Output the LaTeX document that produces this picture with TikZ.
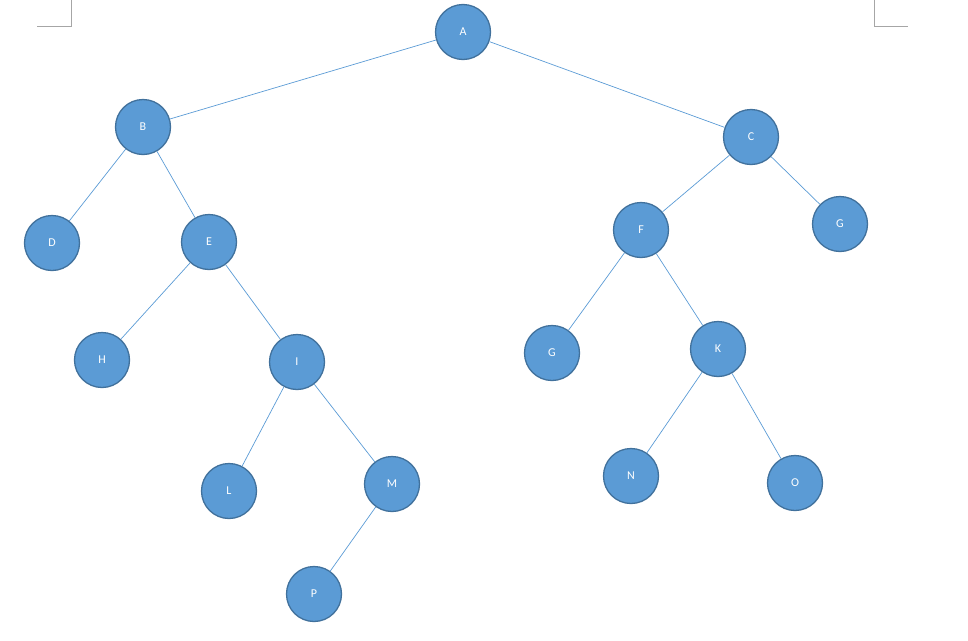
\documentclass[tikz,border=0pt]{standalone}
\usepackage{fontspec}
\setmainfont{Carlito}
\begin{document}
\begin{tikzpicture}[x=1pt,y=-1pt,
  tn/.style={circle,minimum size=55pt,inner sep=0pt,fill=nodefill,draw=nodeborder,line width=1.3pt,text=white,font=\fontsize{12}{14}\selectfont},
  ed/.style={draw=nodefill,line width=0.7pt}]
\definecolor{nodefill}{HTML}{5B9BD5}
\definecolor{nodeborder}{HTML}{41719C}
\useasboundingbox (0,0) rectangle (968,640);
\draw[gray!70,line width=0.6pt] (71,0) -- (71,26) -- (37,26);
\draw[gray!70,line width=0.6pt] (874,0) -- (874,26) -- (908,26);
\node[tn] (A) at (463,32) {A};
\node[tn] (B) at (143,127) {B};
\node[tn] (C) at (751,137) {C};
\node[tn] (D) at (52,243) {D};
\node[tn] (E) at (209,242) {E};
\node[tn] (F) at (641,230) {F};
\node[tn] (G1) at (840,224) {G};
\node[tn] (H) at (102,360) {H};
\node[tn] (I) at (297,362) {I};
\node[tn] (G2) at (552,353) {G};
\node[tn] (K) at (718,349) {K};
\node[tn] (L) at (229,491) {L};
\node[tn] (M) at (392,484) {M};
\node[tn] (N) at (631,476) {N};
\node[tn] (O) at (795,483) {O};
\node[tn] (P) at (314,594) {P};
\foreach \a/\b in {A/B,A/C,B/D,B/E,E/H,E/I,I/L,I/M,M/P,C/F,C/G1,F/G2,F/K,K/N,K/O}
  \draw[ed] (\a) -- (\b);
\end{tikzpicture}
\end{document}
